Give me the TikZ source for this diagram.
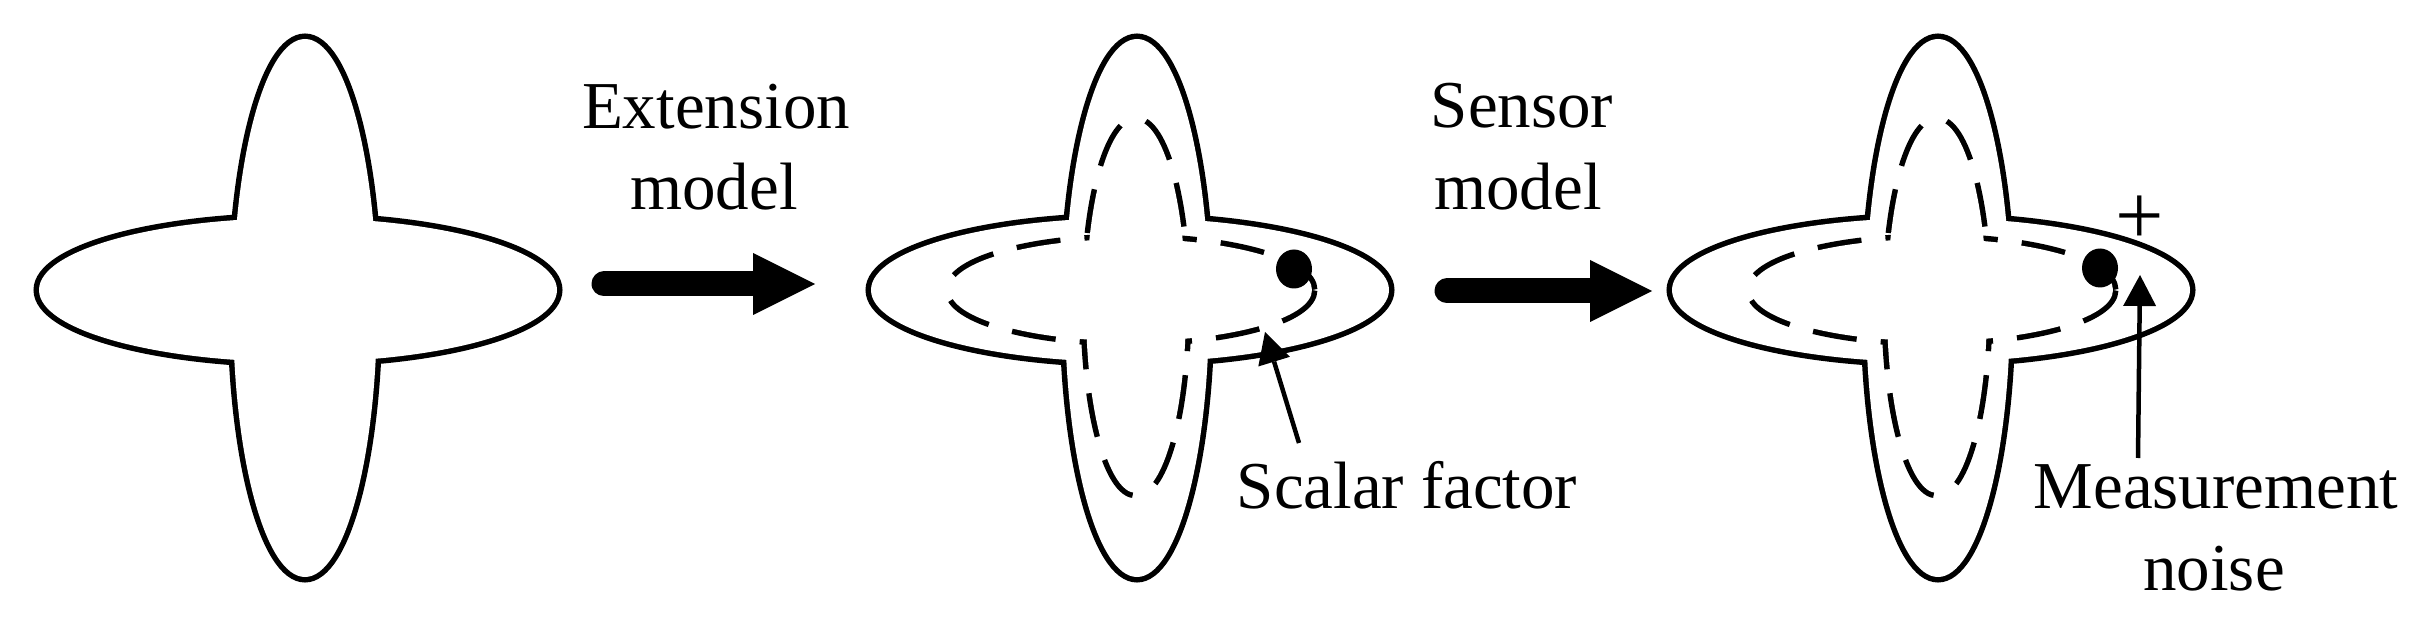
\documentclass[tikz,border=0pt]{standalone}
\usepackage{fontspec}
\setmainfont{Liberation Serif}
\usetikzlibrary{arrows.meta,shapes.geometric}
\begin{document}
\begin{tikzpicture}[x=1pt,y=-1pt,
  outline/.style={line width=11pt,draw=black},
  innerdash/.style={line width=11pt,draw=black,dash pattern=on 44pt off 24pt},
  lbl/.style={font=\fontsize{67}{80}\selectfont,inner sep=0pt,anchor=base},
  bigarrow/.style={line width=25pt,line cap=round,-{Triangle[length=62pt,width=62pt,line width=0pt]}},
  thinarrow/.style={line width=4.5pt,-{Triangle[length=31pt,width=33pt,line width=0pt]}},
  dotmark/.style={ellipse,fill=black,minimum width=36pt,minimum height=39pt,inner sep=0pt}]
\useasboundingbox (0,0) rectangle (2428,617);
% outer cross outlines
\foreach \s in {0,832,1633}{
  \begin{scope}[xshift=\s pt]
    \draw[outline] (305,308) ellipse[x radius=72,y radius=269];
    \draw[outline] (298,290) ellipse[x radius=259,y radius=72];
    \fill[white] (305,308) ellipse[x radius=72,y radius=269];
    \fill[white] (298,290) ellipse[x radius=259,y radius=72];
  \end{scope}
}
% inner dashed crosses
\foreach \s in {832,1633}{
  \begin{scope}[xshift=\s pt]
    \draw[innerdash] (304,307) ellipse[x radius=50,y radius=186];
    \draw[innerdash] (299,290) ellipse[x radius=181,y radius=51];
    \fill[white] (304,307) ellipse[x radius=50,y radius=186];
    \fill[white] (299,290) ellipse[x radius=181,y radius=51];
  \end{scope}
}
% dots
\node[dotmark] (dot2) at (1294,269) {};
\node[dotmark] (dot3) at (2100,268) {};
% plus marker
\node[font=\fontsize{86}{86}\selectfont,inner sep=0pt] (plus) at (2140,220) {+};
% big arrows
\coordinate (a1s) at (604,284);
\coordinate (a1e) at (815,284);
\coordinate (a2s) at (1447,291);
\coordinate (a2e) at (1652,291);
\draw[bigarrow] (a1s) -- (a1e);
\draw[bigarrow] (a2s) -- (a2e);
% labels
\node[lbl] (ext1) at (716,129) {Extension};
\node[lbl] (ext2) at (714,210) {model};
\node[lbl] (sen1) at (1522,128) {Sensor};
\node[lbl] (sen2) at (1518,210) {model};
\node[lbl] (sf) at (1407,508) {Scalar factor};
\node[lbl] (mn1) at (2216,508) {Measurement};
\node[lbl] (mn2) at (2214,590) {noise};
% pointer arrows
\coordinate (sftail) at (1299,443);
\coordinate (sftip) at (1265,332);
\coordinate (mntail) at (2138,458);
\coordinate (mntip) at (2140,275);
\draw[thinarrow] (sftail) -- (sftip);
\draw[thinarrow] (mntail) -- (mntip);
\end{tikzpicture}
\end{document}
